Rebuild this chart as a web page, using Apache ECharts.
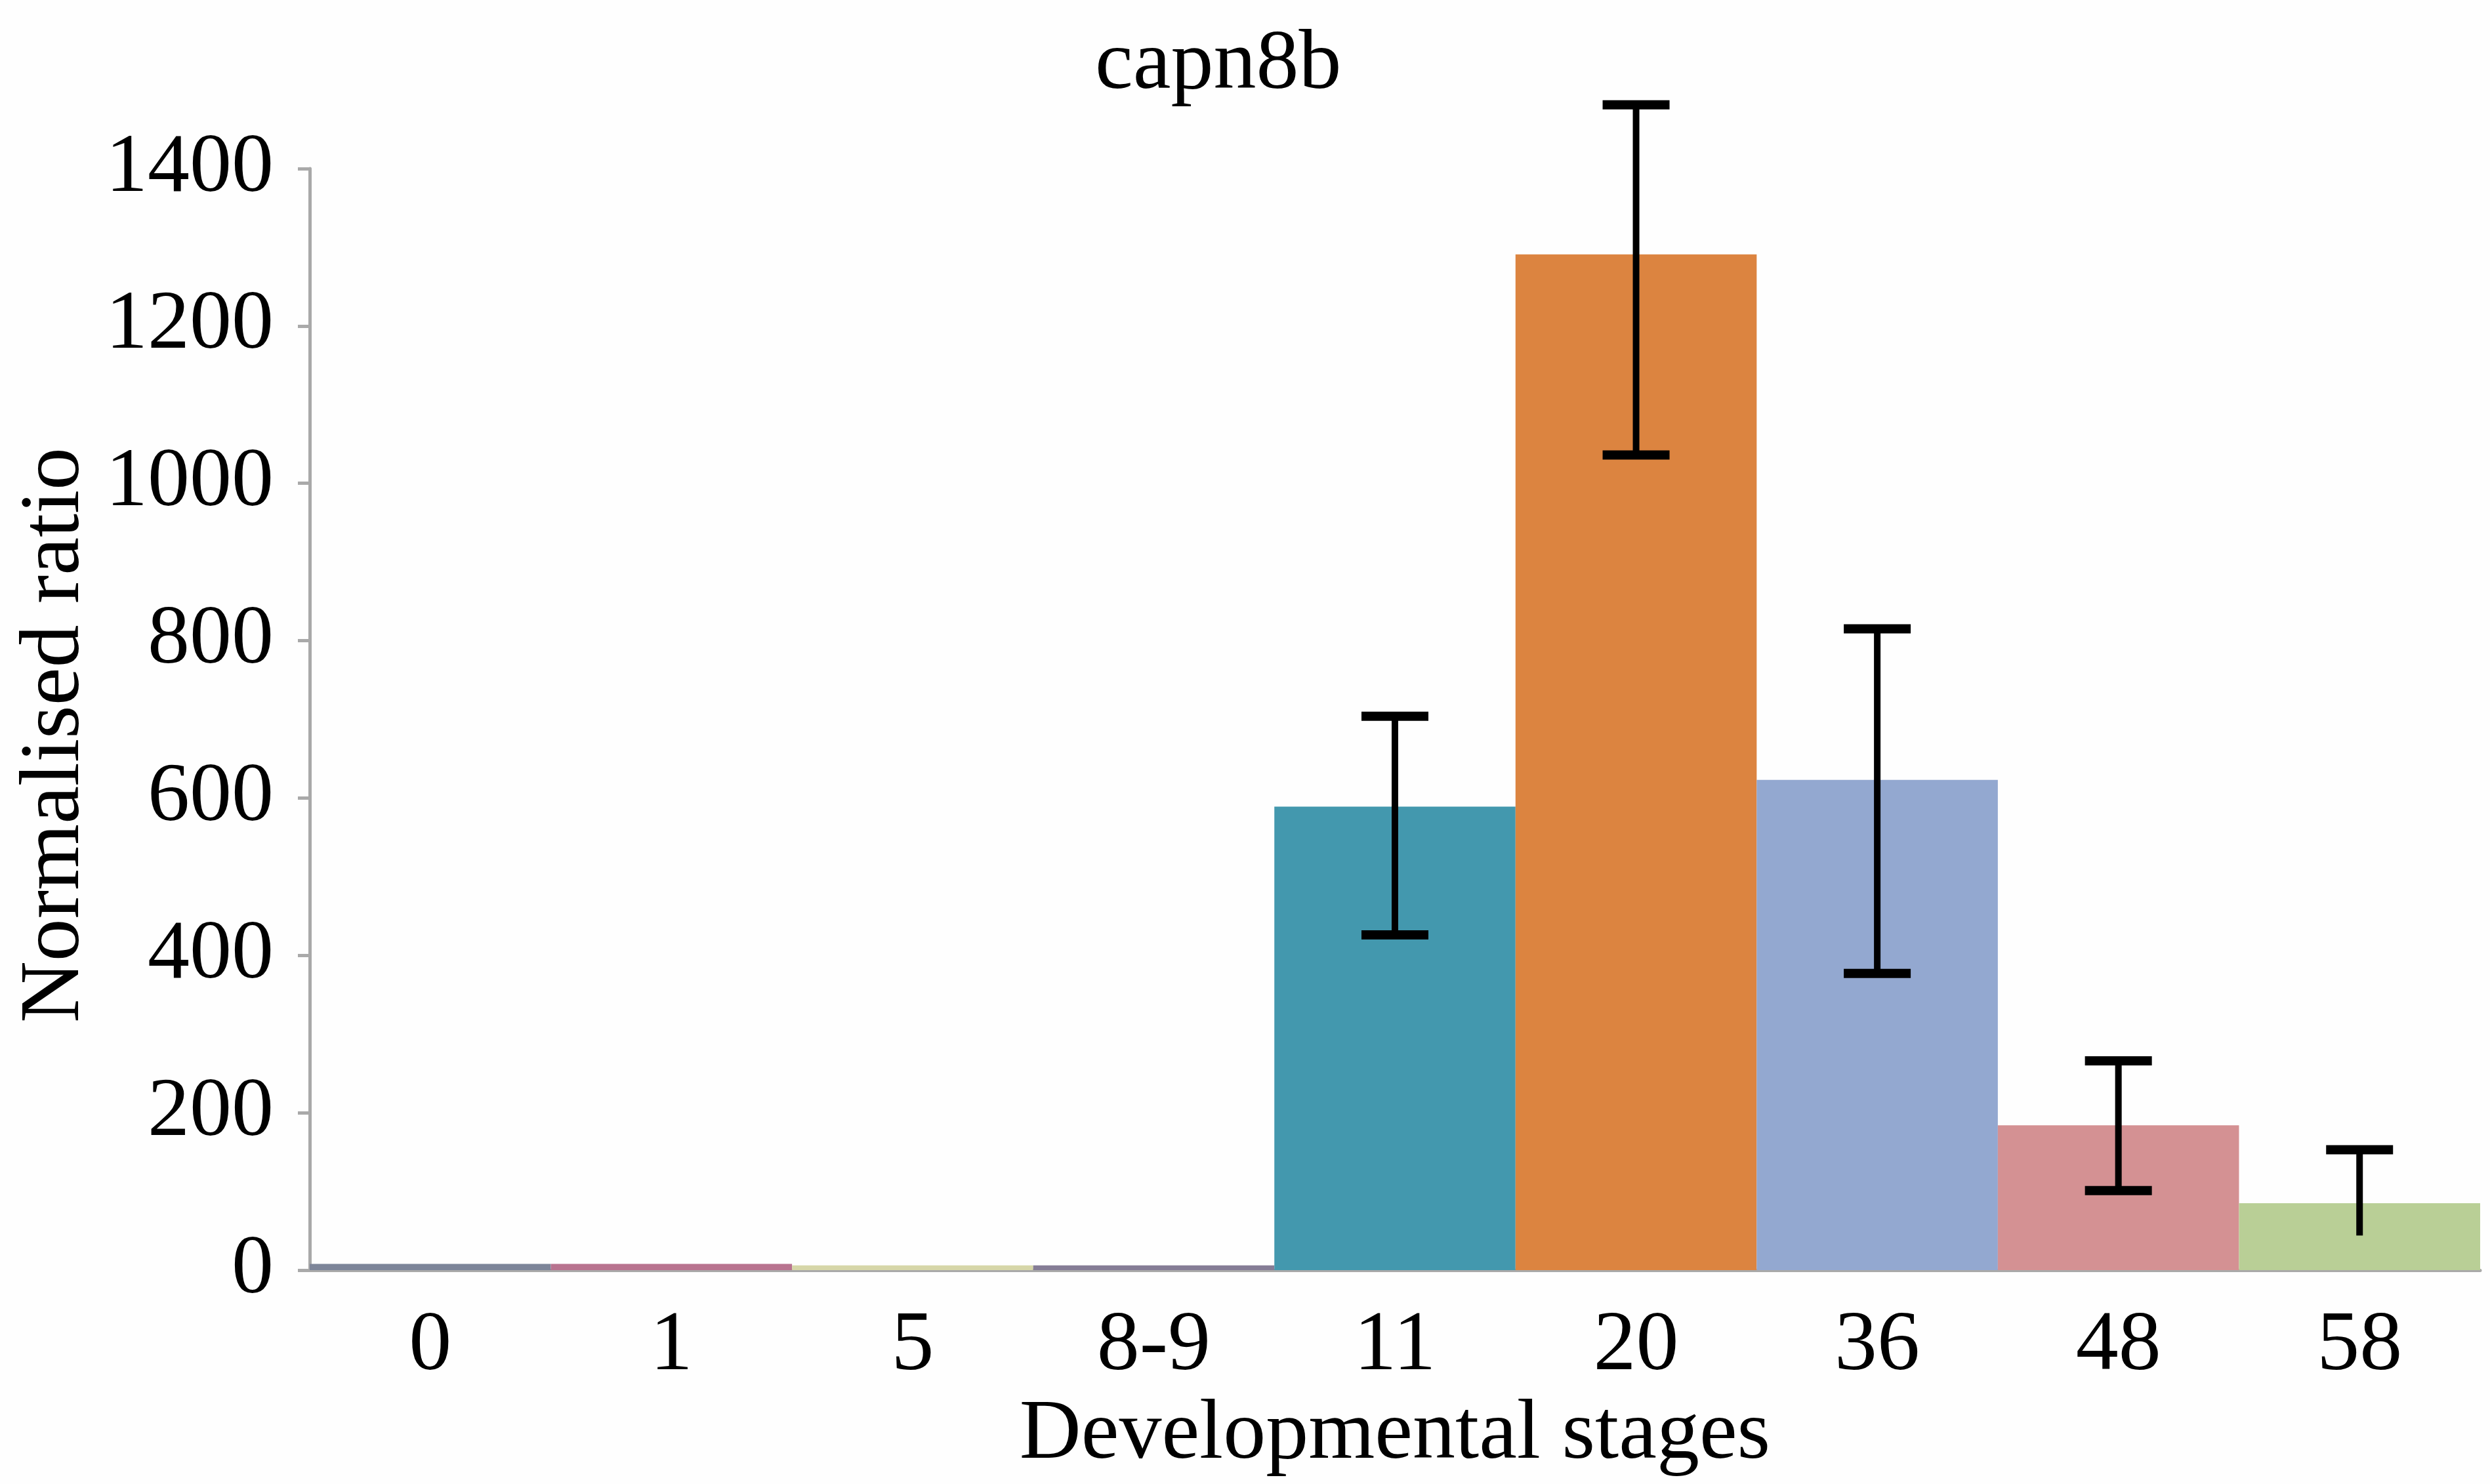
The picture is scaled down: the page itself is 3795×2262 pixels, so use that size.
<!DOCTYPE html>
<html>
<head>
<meta charset="utf-8">
<script src="https://cdn.jsdelivr.net/npm/echarts@6/dist/echarts.min.js"></script>
<style>
  html, body { margin: 0; padding: 0; background: #fefefe; }
  #main { width: 3795px; height: 2262px; }
</style>
</head>
<body>
<div id="main"></div>
<script>
// developmental stages on the x axis
const stages = ['0', '1', '5', '8-9', '11', '20', '36', '48', '58'];
// mean normalised ratio per stage
const means = [8, 8, 6, 6, 589, 1291, 623, 184, 85];
// error bar ends (null = no error bar)
const errLow = [null, null, null, null, 426, 1036, 377, 101, 44];
const errHigh = [null, null, null, null, 704, 1481, 815, 266, 153];
// whether the lower cap is drawn
const lowCap = [false, false, false, false, true, true, true, true, false];
const barColors = ['#7d8599', '#b8738f', '#d6d6a8', '#857d96', '#4398ae', '#dc8440', '#93a8d0', '#d49193', '#b9cf96'];
const yTicks = [0, 200, 400, 600, 800, 1000, 1200, 1400];

const font = 'Liberation Serif';

let myChart = echarts.init(document.getElementById('main'));

const errData = [];
stages.forEach(function (s, i) {
  if (errLow[i] != null) errData.push([i, errLow[i], errHigh[i], lowCap[i] ? 1 : 0]);
});

myChart.setOption({
  backgroundColor: '#fefefe',
  animation: false,
  title: {
    text: 'capn8b',
    left: 1664,
    top: 30,
    textStyle: { fontFamily: font, fontSize: 130, fontWeight: 'normal', color: '#000' }
  },
  grid: {
    left: 472,
    right: 15,
    top: 257,
    bottom: 326
  },
  xAxis: {
    type: 'category',
    data: stages,
    name: 'Developmental stages',
    nameLocation: 'middle',
    nameGap: 170,
    nameTextStyle: { fontFamily: font, fontSize: 130, color: '#000' },
    axisLine: { lineStyle: { color: '#a9a9a9', width: 5 } },
    axisTick: { show: false },
    axisLabel: { fontFamily: font, fontSize: 130, color: '#000', margin: 52 }
  },
  yAxis: {
    type: 'value',
    min: yTicks[0],
    max: yTicks[yTicks.length - 1],
    interval: 200,
    name: 'Normalised ratio',
    nameLocation: 'middle',
    nameRotate: 90,
    nameGap: 367,
    nameTextStyle: { fontFamily: font, fontSize: 130, color: '#000', verticalAlign: 'middle', padding: [0, 48, 0, 0] },
    axisLine: { show: true, lineStyle: { color: '#a9a9a9', width: 5 } },
    axisTick: { show: true, length: 18, lineStyle: { color: '#a9a9a9', width: 5 } },
    splitLine: { show: false },
    axisLabel: {
      fontFamily: font, fontSize: 128, color: '#000', margin: 55,
      formatter: function (v) { return String(v); }
    }
  },
  series: [
    {
      type: 'bar',
      barCategoryGap: '0%',
      data: means.map(function (v, i) {
        return { value: v, itemStyle: { color: barColors[i] } };
      })
    },
    {
      type: 'custom',
      clip: false,
      z: 10,
      data: errData,
      renderItem: function (params, api) {
        const x = api.value(0);
        const lo = api.coord([x, api.value(1)]);
        const hi = api.coord([x, api.value(2)]);
        const half = 51;
        const children = [
          { type: 'line', shape: { x1: hi[0], y1: hi[1], x2: lo[0], y2: lo[1] },
            style: { stroke: '#000', lineWidth: 10 } },
          { type: 'line', shape: { x1: hi[0] - half, y1: hi[1], x2: hi[0] + half, y2: hi[1] },
            style: { stroke: '#000', lineWidth: 14 } }
        ];
        if (api.value(3)) {
          children.push({ type: 'line', shape: { x1: lo[0] - half, y1: lo[1], x2: lo[0] + half, y2: lo[1] },
            style: { stroke: '#000', lineWidth: 14 } });
        }
        return { type: 'group', children: children };
      }
    }
  ]
});
</script>
</body>
</html>
